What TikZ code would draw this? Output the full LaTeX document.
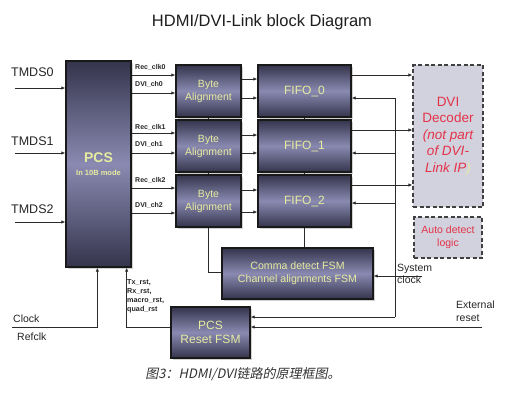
\documentclass[tikz,border=0pt]{standalone}
\usepackage{fontspec}
\setmainfont{Liberation Sans}
\newfontfamily\cjk[FakeSlant=0.2]{Noto Sans CJK SC}
\usetikzlibrary{arrows.meta,shadows,calc}
\definecolor{bdark}{HTML}{34344C}
\definecolor{blight}{HTML}{8A8AB2}
\definecolor{btext}{HTML}{E6ECA0}
\definecolor{dfill}{HTML}{D2D2DE}
\definecolor{dred}{HTML}{E43248}
\definecolor{lnc}{HTML}{2A2A2A}
\begin{document}
\begin{tikzpicture}[x=1pt,y=-1pt,
  blk/.style={draw=black!90, line width=1.3pt, top color=bdark, bottom color=bdark, middle color=blight,
    drop shadow={shadow xshift=1.5pt,shadow yshift=-1.5pt,opacity=0.35},
    text=btext, align=center, inner sep=0pt},
  dbox/.style={draw=black!75, line width=1.2pt, dash pattern=on 4pt off 2.5pt, fill=dfill,
    text=dred, align=center, inner sep=0pt},
  arr/.style={-{Latex[length=4pt,width=3.4pt]}, line width=0.9pt, draw=lnc},
  ln/.style={line width=0.9pt, draw=lnc},
  sig/.style={font=\fontsize{7}{8}\selectfont\bfseries, text=black!85, inner sep=0pt, anchor=west},
  lab/.style={font=\fontsize{10.5}{12.5}\selectfont, text=black!85, inner sep=0pt, anchor=west, align=left},
  big/.style={font=\fontsize{12.5}{14}\selectfont, text=black!85, inner sep=0pt, anchor=west}
]
\useasboundingbox[fill=white] (0,0) rectangle (506,410);

% title
\node[font=\fontsize{16.5}{18}\selectfont, text=black!88] (title) at (262,22) {HDMI/DVI-Link block Diagram};

% blocks
\node[blk, minimum width=65pt, minimum height=206pt] (pcs) at (98.5,164) {};
\node[text=btext, font=\fontsize{14}{16}\selectfont\bfseries, inner sep=0pt] (pcst) at (98.5,158) {PCS};
\node[text=btext, font=\fontsize{7.5}{9}\selectfont\bfseries, inner sep=0pt] (pcss) at (98.5,173) {In 10B mode};

\foreach \i/\y in {0/91,1/146,2/201}{
  \node[blk, minimum width=65pt, minimum height=52pt, font=\fontsize{10.5}{13}\selectfont] (b\i) at (208.5,\y) {Byte\\Alignment};
  \node[blk, minimum width=93pt, minimum height=52pt, font=\fontsize{12}{14}\selectfont] (f\i) at (304.5,\y) {FIFO\_\i};
}

\node[dbox, minimum width=70pt, minimum height=142pt, font=\fontsize{13.5}{16.5}\selectfont] (dvi) at (448,136)
  {DVI\\Decoder\\\itshape (not part\\\itshape of DVI-\\\itshape Link IP\textcolor{btext}{)}};
\node[dbox, minimum width=68pt, minimum height=41pt, font=\fontsize{10.5}{12.5}\selectfont] (auto) at (448,237.5)
  {Auto detect\\logic};

\node[blk, minimum width=151pt, minimum height=51pt, font=\fontsize{10.6}{13}\selectfont] (comma) at (297.5,273.5)
  {Comma detect FSM\\Channel alignments FSM};
\node[blk, minimum width=79pt, minimum height=51pt, font=\fontsize{12}{14.5}\selectfont] (rst) at (210.5,332.5)
  {PCS\\Reset FSM};

% TMDS inputs
\node[big] (lt0) at (11,72) {TMDS0};
\node[big] (lt1) at (11,141) {TMDS1};
\node[big] (lt2) at (11,209) {TMDS2};
\coordinate (t0) at (15,88);
\coordinate (t1) at (15,153);
\coordinate (t2) at (15,222);
\draw[arr] (t0) -- (pcs.west |- t0);
\draw[arr] (t1) -- (pcs.west |- t1);
\draw[arr] (t2) -- (pcs.west |- t2);

% PCS -> byte alignment
\draw[arr] (pcs.east |- 0,75) -- (b0.west |- 0,75);
\draw[arr] (pcs.east |- 0,93) -- (b0.west |- 0,93);
\draw[arr] (pcs.east |- 0,133) -- (b1.west |- 0,133);
\draw[arr] (pcs.east |- 0,153) -- (b1.west |- 0,153);
\draw[arr] (pcs.east |- 0,188) -- (b2.west |- 0,188);
\draw[arr] (pcs.east |- 0,213) -- (b2.west |- 0,213);
\node[sig] (s0) at (135,67) {Rec\_clk0};
\node[sig] (s1) at (135,84) {DVI\_ch0};
\node[sig] (s2) at (135,127) {Rec\_clk1};
\node[sig] (s3) at (135,144) {DVI\_ch1};
\node[sig] (s4) at (135,180) {Rec\_clk2};
\node[sig] (s5) at (135,205) {DVI\_ch2};

% byte -> fifo
\draw[arr] (b0.east |- 0,79) -- (f0.west |- 0,79);
\draw[arr] (b0.east |- 0,98) -- (f0.west |- 0,98);
\draw[arr] (b1.east |- 0,135) -- (f1.west |- 0,135);
\draw[arr] (b1.east |- 0,153) -- (f1.west |- 0,153);
\draw[arr] (b2.east |- 0,190) -- (f2.west |- 0,190);
\draw[arr] (b2.east |- 0,212) -- (f2.west |- 0,212);

% block links
\draw[ln] (b0.south) -- (b1.north);
\draw[ln] (b1.south) -- (b2.north);
\draw[ln] (f0.south) -- (f1.north);
\draw[ln] (f1.south) -- (f2.north);
\draw[ln] (b2.south) -- (b2.south |- 0,272) -- (comma.west |- 0,272);
\draw[ln] (f2.south) -- (f2.south |- comma.north);

% fifo -> dvi
\draw[arr] (f0.east |- 0,75) -- (dvi.west |- 0,75);
\draw[arr] (f1.east |- 0,130) -- (dvi.west |- 0,130);
\draw[arr] (f2.east |- 0,185) -- (dvi.west |- 0,185);

% feedback bus
\coordinate (fbtop) at (395,98);
\coordinate (fbbot) at (395,317);
\draw[ln] (fbtop) -- (fbbot);
\draw[arr] (fbtop) -- (f0.east |- fbtop);
\draw[arr] (fbtop |- 0,153) -- (f1.east |- 0,153);
\draw[arr] (fbtop |- 0,203) -- (f2.east |- 0,203);
\draw[arr] (fbbot) -- (rst.east |- fbbot);

% external reset
\coordinate (ext) at (482,327);
\draw[arr] (ext) -- (rst.east |- ext);
\draw[ln] ($(auto.south)+(-7,0)$) -- ($(auto.south)+(-7,0)$ |- ext);
\node[lab] (extl) at (456,311) {External\\reset};

% system clock
\coordinate (sys) at (422,276);
\draw[arr] (sys) -- (comma.east |- sys);
\node[lab] (sysl) at (397,274) {System\\clock};

% clock
\coordinate (clk) at (12,327);
\draw[arr] (clk) -| ($(pcs.south west)+(32,0)$);
\node[lab] (clkl) at (13,319) {Clock};
\node[lab] (refl) at (17,337) {Refclk};

% reset -> pcs
\draw[arr] (rst.west |- 0,327) -| ($(pcs.south east)+(-5,0)$);
\node[sig, font=\fontsize{7.2}{9.2}\selectfont\bfseries, align=left, anchor=north west] (rsl) at (127,279)
  {Tx\_rst,\\Rx\_rst,\\macro\_rst,\\quad\_rst};

% caption
\node[font=\fontsize{13}{15}\selectfont, text=black!80] (cap) at (243,374) {\cjk 图3：HDMI/DVI链路的原理框图。};
\end{tikzpicture}
\end{document}
